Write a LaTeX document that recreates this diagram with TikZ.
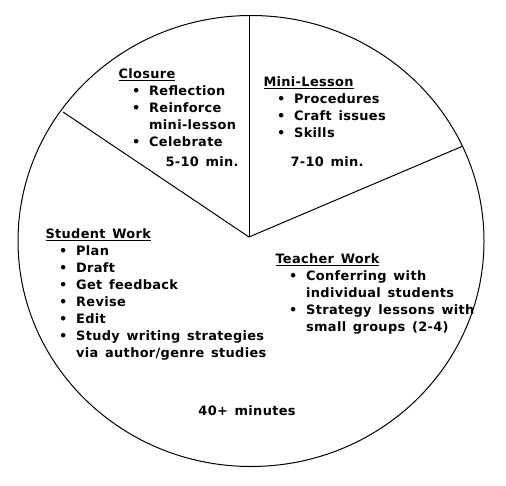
\documentclass[tikz,border=0pt]{standalone}
\usepackage{fontspec}
\setmainfont{DejaVu Sans}[LetterSpace=2.5,WordSpace=1.4]
\tikzset{every picture/.style={line width=0.75pt}}
\tikzset{blockTxt/.style={anchor=north west,inner sep=0pt,align=left,font=\bfseries\fontsize{9.7}{12.75}\selectfont}}
\newcommand{\itm}[1]{\hspace*{23pt}\llap{\textbullet\hspace{6.5pt}}#1}
\newcommand{\cnt}[1]{\hspace*{23pt}#1}

\begin{document}
\begin{tikzpicture}[x=0.75pt,y=0.75pt,yscale=-1,xscale=1]
\useasboundingbox (0,0) rectangle (506,485);

%Shape: Circle
\draw (251,241) ellipse [x radius=233, y radius=225.5];
% spokes
\coordinate (ctr) at (249,237);
\coordinate (rimTop) at (249,15.5);
\coordinate (rimLeft) at (63,112);
\coordinate (rimRight) at (463,146);
\draw (ctr) -- (rimTop);
\draw (ctr) -- (rimLeft);
\draw (ctr) -- (rimRight);

% Text Node
\node [blockTxt] (closure) at (118,68) {\underline{Closure}\\ \itm{Reflection}\\ \itm{Reinforce}\\ \cnt{mini-lesson}\\ \itm{Celebrate}};
% Text Node
\node [blockTxt] (closureTime) at (165,156) {5-10 min.};
% Text Node
\node [blockTxt] (miniLesson) at (263,76) {\underline{Mini-Lesson}\\ \itm{Procedures}\\ \itm{Craft issues}\\ \itm{Skills}};
% Text Node
\node [blockTxt] (miniTime) at (290,156) {7-10 min.};
% Text Node
\node [blockTxt] (studentWork) at (45,228) {\underline{Student Work}\\ \itm{Plan}\\ \itm{Draft}\\ \itm{Get feedback}\\ \itm{Revise}\\ \itm{Edit}\\ \itm{Study writing strategies}\\ \cnt{via author/genre studies}};
% Text Node
\node [blockTxt] (teacherWork) at (275,253) {\underline{Teacher Work}\\ \itm{Conferring with}\\ \cnt{individual students}\\ \itm{Strategy lessons with}\\ \cnt{small groups (2-4)}};
% Text Node
\node [blockTxt,anchor=north] (mainTime) at (247,405) {40+ minutes};
\end{tikzpicture}
\end{document}
